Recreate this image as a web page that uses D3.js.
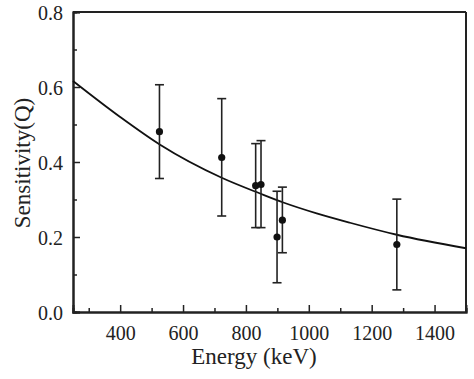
<!DOCTYPE html>
<html>
<head>
<meta charset="utf-8">
<script src="https://cdn.jsdelivr.net/npm/d3@7"></script>
<style>
  body { margin: 0; background: #fff; }
  svg { display: block; }
</style>
</head>
<body>
<svg class="chart" width="474" height="379"></svg>
<script>
"use strict";

var serif = "'Liberation Serif', 'Times New Roman', serif";

// measured points with error bars
var energy = [525, 723, 831, 848, 899, 916, 1280];
var sensitivity = [0.481, 0.412, 0.337, 0.340, 0.200, 0.245, 0.180];
var errUpper = [0.606, 0.569, 0.449, 0.457, 0.322, 0.333, 0.301];
var errLower = [0.356, 0.256, 0.225, 0.225, 0.078, 0.158, 0.059];

// fitted curve
var fitEnergy = [250, 400, 527, 723, 845, 919, 1025, 1131, 1280, 1500];
var fitSensitivity = [0.616, 0.520, 0.446, 0.358, 0.316, 0.292, 0.263, 0.238, 0.206, 0.170];

var xMajor = [400, 600, 800, 1000, 1200, 1400];
var xMinor = [300, 500, 700, 900, 1100, 1300, 1500];
var yMajor = [0.0, 0.2, 0.4, 0.6, 0.8];
var yMinor = [0.1, 0.3, 0.5, 0.7];

var svg = d3.select("svg.chart");
var margin = { top: 12, right: 8, bottom: 67, left: 73 };
var width = +svg.attr("width") - margin.left - margin.right;
var height = +svg.attr("height") - margin.top - margin.bottom;
var g = svg.append("g").attr("transform", "translate(" + margin.left + ", " + margin.top + ")");

var x = d3.scaleLinear().domain([250, 1500]).range([0, width]);
var y = d3.scaleLinear().domain([0, 0.8]).range([height, 0]);

var points = energy.map(function (e, i) {
    return { e: e, q: sensitivity[i], hi: errUpper[i], lo: errLower[i] };
});
var fit = fitEnergy.map(function (e, i) {
    return { e: e, q: fitSensitivity[i] };
});

// axes, ticks pointing inward
g.append("g").attr("class", "axis axis--x").attr("transform", "translate(0, " + height + ")")
    .call(d3.axisBottom(x).tickValues(xMinor).tickSize(-4).tickFormat(""));
g.append("g").attr("class", "axis axis--x").attr("transform", "translate(0, " + height + ")")
    .call(d3.axisBottom(x).tickValues(xMajor).tickSize(-7).tickPadding(14).tickFormat(d3.format("d")));
g.append("g").attr("class", "axis axis--y")
    .call(d3.axisLeft(y).tickValues(yMinor).tickSize(-4).tickFormat(""));
g.append("g").attr("class", "axis axis--y")
    .call(d3.axisLeft(y).tickValues(yMajor).tickSize(-7).tickPadding(10).tickFormat(d3.format(".1f")));

g.selectAll(".axis").attr("font-family", serif).attr("font-size", 20);
g.selectAll(".axis path").attr("stroke", "#222").attr("stroke-width", 2);
g.selectAll(".axis line").attr("stroke", "#222").attr("stroke-width", 1.5);
g.selectAll(".axis text").attr("fill", "#222").style("font-family", serif).style("font-size", "20px");
g.selectAll(".axis--y text").attr("dy", "0.35em");
g.selectAll(".axis--x text").attr("dy", "0.71em");

// frame top and right
g.append("line").attr("x1", 0).attr("x2", width).attr("y1", 0).attr("y2", 0)
    .attr("stroke", "#222").attr("stroke-width", 2);
g.append("line").attr("x1", width).attr("x2", width).attr("y1", 0).attr("y2", height)
    .attr("stroke", "#222").attr("stroke-width", 2);

// fitted curve
var line = d3.line().curve(d3.curveMonotoneX)
    .x(function (d) { return x(d.e); })
    .y(function (d) { return y(d.q); });
g.append("path").datum(fit).attr("d", line)
    .attr("fill", "none").attr("stroke", "#111").attr("stroke-width", 1.8);

// error bars
var bars = g.selectAll(".err").data(points).enter().append("g").attr("class", "err")
    .attr("stroke", "#222").attr("stroke-width", 1.6);
bars.append("line")
    .attr("x1", function (d) { return x(d.e); }).attr("x2", function (d) { return x(d.e); })
    .attr("y1", function (d) { return y(d.hi); }).attr("y2", function (d) { return y(d.lo); });
bars.append("line")
    .attr("x1", function (d) { return x(d.e) - 4.5; }).attr("x2", function (d) { return x(d.e) + 4.5; })
    .attr("y1", function (d) { return y(d.hi); }).attr("y2", function (d) { return y(d.hi); });
bars.append("line")
    .attr("x1", function (d) { return x(d.e) - 4.5; }).attr("x2", function (d) { return x(d.e) + 4.5; })
    .attr("y1", function (d) { return y(d.lo); }).attr("y2", function (d) { return y(d.lo); });

g.selectAll(".dot").data(points).enter().append("circle").attr("class", "dot")
    .attr("cx", function (d) { return x(d.e); })
    .attr("cy", function (d) { return y(d.q); })
    .attr("r", 3.6).attr("fill", "#111");

// axis titles
svg.append("text").attr("x", 254).attr("y", 364).attr("text-anchor", "middle")
    .style("font-family", serif).attr("font-size", 23).attr("fill", "#222").text("Energy (keV)");
svg.append("text").attr("transform", "translate(30, 163) rotate(-90)").attr("text-anchor", "middle")
    .style("font-family", serif).attr("font-size", 23).attr("fill", "#222").text("Sensitivity(Q)");
</script>
</body>
</html>
